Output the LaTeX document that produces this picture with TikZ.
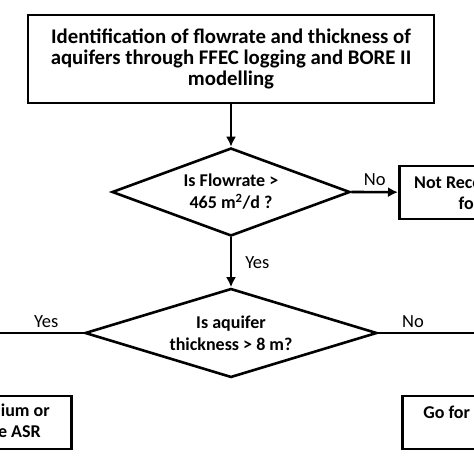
\documentclass[tikz,border=0pt]{standalone}
\usepackage{fontspec}
\setmainfont{Carlito}
\usetikzlibrary{positioning,shapes.geometric,arrows.meta}

\begin{document}
\begin{tikzpicture}[x=1pt,y=-1pt,-{Latex[length=10pt,width=10pt]},line width=2.6pt,
		stepbox/.style ={rectangle, draw, align=center, inner ysep=2pt,
			font=\fontsize{18}{21}\selectfont\bfseries},
		decision/.style ={diamond, draw, align=center, inner sep=0pt,
			font=\fontsize{18}{22}\selectfont\bfseries},
		answer/.style ={font=\fontsize{18.5}{20}\selectfont, inner sep=1pt}]
		\clip (0,0) rectangle (474,474);
		\node[stepbox, minimum width=406pt, minimum height=88pt,
			font=\fontsize{20.8}{21}\selectfont\bfseries] (ident) at (231,59)
			{Identification of flowrate and thickness of\\aquifers through FFEC logging and BORE II\\modelling};
		\node[decision, aspect=2.7, minimum width=238pt, minimum height=88pt] (flow) at (231,192)
			{Is Flowrate >\\465 m\textsuperscript{2}/d ?};
		\node[stepbox, minimum width=174pt, minimum height=53pt, anchor=west] (notrec) at (398,192.5)
			{Not Recommended\\for ASR};
		\node[decision, aspect=3.3, minimum width=292pt, minimum height=89pt] (thick) at (231,333)
			{Is aquifer\\thickness > 8 m?};
		\node[stepbox, inner xsep=22pt, minimum height=53pt, anchor=east] (medium) at (73,422.5)
			{Go for Medium or\\Large Scale ASR};
		\node[stepbox, inner xsep=21pt, minimum height=53pt, anchor=west] (small) at (401,422.5)
			{Go for Small Scale\\ASR};
		\coordinate (leftturn) at (medium.north |- thick.west);
		\coordinate (rightturn) at (small.north |- thick.east);
		\draw (ident) -- (flow.north);
		\draw (flow.east) -- node[answer, above=4pt]{No} (notrec);
		\draw (flow.south) -- node[answer, right=12pt]{Yes} (thick.north);
		\draw (thick.west) -- node[answer, above=3pt, pos=0.37]{Yes} (leftturn) -- (medium.north);
		\draw (thick.east) -- node[answer, above=3pt, pos=0.31]{No} (rightturn) -- (small.north);
		\end{tikzpicture}
\end{document}
